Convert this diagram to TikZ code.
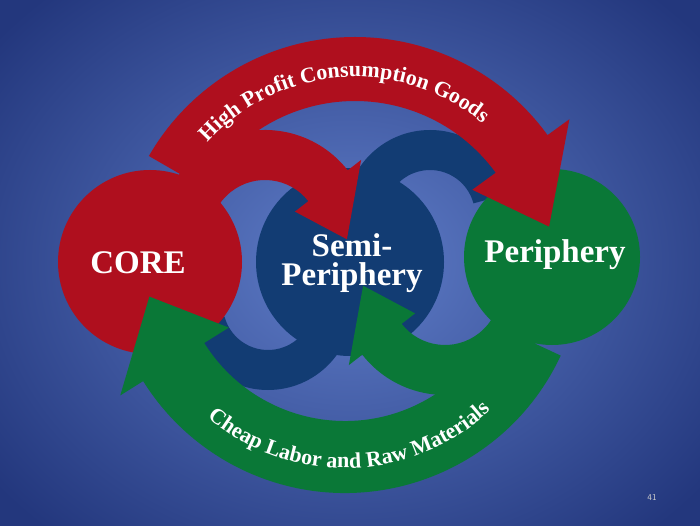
\documentclass[tikz,border=0pt]{standalone}
\usepackage{fontspec}
\setmainfont{Liberation Serif}
\usetikzlibrary{decorations.text}
\definecolor{bgin}{RGB}{95,125,200}
\definecolor{bgout}{RGB}{35,55,125}
\definecolor{cred}{RGB}{175,15,30}
\definecolor{cgreen}{RGB}{10,120,55}
\definecolor{cnavy}{RGB}{18,60,115}
\tikzset{
  blob/.style={circle,inner sep=0pt},
  lbl/.style={text=white,font=\bfseries\fontsize{33}{29}\selectfont,align=center},
  band/.style={draw=none},
}
\begin{document}
\begin{tikzpicture}[x=1pt,y=1pt]
\useasboundingbox (0,0) rectangle (700,525);
\shade[inner color=bgin,outer color=bgout] (-100,-100) rectangle (800,625);
% navy bands
\begin{scope}[shift={(430,310)}]
\fill[cnavy,band] (180:85pt) arc[start angle=180,end angle=15,radius=85pt] -- (15:45pt) arc[start angle=15,end angle=180,radius=45pt] -- cycle;
\end{scope}
\begin{scope}[shift={(268,220)}]
\fill[cnavy,band] (0:85pt) arc[start angle=0,end angle=-165,radius=85pt] -- (-165:45pt) arc[start angle=-165,end angle=0,radius=45pt] -- cycle;
\end{scope}
\node[blob,fill=cnavy,minimum size=188pt] (semi) at (350,263) {};
\node[blob,fill=cred,minimum size=184pt] (core) at (150,263) {};
\node[blob,fill=cgreen,minimum size=176pt] (peri) at (552,268) {};
% small red arrow
\begin{scope}[shift={(265,290)}]
\fill[cred,band] (165:105pt) arc[start angle=165,end angle=38,radius=105pt] -- (38:122pt) -- (-3:82pt) -- (38:38pt) -- (38:55pt) arc[start angle=38,end angle=165,radius=55pt] -- cycle;
\end{scope}
% small green arrow
\begin{scope}[shift={(445,235)}]
\fill[cgreen,band] (-15:105pt) arc[start angle=-15,end angle=-142,radius=105pt] -- (-142:122pt) -- (177:82pt) -- (-142:38pt) -- (-142:55pt) arc[start angle=-142,end angle=-15,radius=55pt] -- cycle;
\end{scope}
% big red arrow
\begin{scope}[shift={(355,250)}]
\fill[cred,band] (150:238pt) arc[start angle=150,end angle=36,radius=238pt] -- (36:265pt) -- (14:200pt) -- (36:145pt) -- (36:174pt) arc[start angle=36,end angle=150,radius=174pt] -- cycle;
\path[decorate,decoration={text along path,text align=center,text color=white,
  text={|\bfseries\fontsize{22}{22}\selectfont|High Profit Consumption Goods}}]
  (152:198pt) arc[start angle=152,end angle=36,radius=198pt];
\end{scope}
% big green arrow
\begin{scope}[shift={(345,270)}]
\fill[cgreen,band] (-25:238pt) arc[start angle=-25,end angle=-148,radius=238pt] -- (-148:265pt) -- (-168:200pt) -- (-148:137pt) -- (-148:166pt) arc[start angle=-148,end angle=-25,radius=166pt] -- cycle;
\path[decorate,decoration={text along path,text align=center,text color=white,
  text={|\bfseries\fontsize{22}{22}\selectfont|Cheap Labor and Raw Materials}}]
  (-150:213pt) arc[start angle=-150,end angle=-27,radius=213pt];
\end{scope}
\node[lbl] (tcore) at (138,262) {CORE};
\node[lbl] (tsemi) at (352,262) {Semi-\\Periphery};
\node[lbl] (tperi) at (555,270) {Periphery};
\node[text=white!80!black,font=\fontsize{9}{9}\selectfont\sffamily] (pg) at (652,28) {41};
\end{tikzpicture}
\end{document}
